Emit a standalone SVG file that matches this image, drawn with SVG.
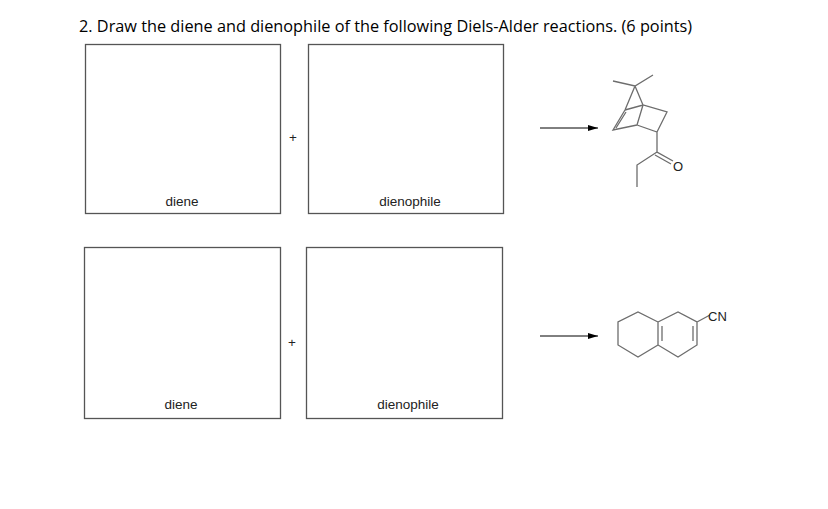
<svg xmlns="http://www.w3.org/2000/svg" width="828" height="509" viewBox="0 0 828 509">
<style>
.box{fill:none;stroke:#555;stroke-width:1.3}
.t{font-family:"Liberation Sans",Arial,sans-serif;font-size:13.5px;fill:#222}
.b{fill:none;stroke:#6d6d6d;stroke-width:1.3}
.c{stroke:#000;stroke-width:1}
</style>
<defs><marker id="ah" viewBox="0 0 10 6" refX="10" refY="3" markerWidth="10" markerHeight="6" orient="auto" markerUnits="userSpaceOnUse"><path d="M0,0L10,3L0,6z" fill="#000"/></marker></defs>
<rect width="828" height="509" fill="#fff"/>
<text x="79" y="32" font-family="Open Sans,sans-serif" font-size="16.3" fill="#000">2. Draw the diene and dienophile of the following Diels-Alder reactions.  (6 points)</text>
<g id="box1"><rect class="box" x="85.5" y="44.5" width="195" height="169"/><text class="t" x="182" y="206" text-anchor="middle">diene</text></g>
<g id="box2"><rect class="box" x="308.5" y="44.5" width="195" height="169"/><text class="t" x="410" y="206" text-anchor="middle">dienophile</text></g>
<g id="box3"><rect class="box" x="84.5" y="247.5" width="196" height="171"/><text class="t" x="181" y="409" text-anchor="middle">diene</text></g>
<g id="box4"><rect class="box" x="306.5" y="247.5" width="196" height="171"/><text class="t" x="408" y="409" text-anchor="middle">dienophile</text></g>
<g id="plus1"><text class="t" x="293" y="142" text-anchor="middle" font-size="11">+</text></g>
<g id="plus2"><text class="t" x="292" y="347" text-anchor="middle" font-size="11">+</text></g>
<g id="connectors">
<line class="c" x1="540" y1="128" x2="598" y2="128" marker-end="url(#ah)"/>
<line class="c" x1="540" y1="336" x2="598" y2="336" marker-end="url(#ah)"/>
</g>
<g id="product1" class="b">
<path d="M613,81L635,86L653,75M635,86L625,110M635,86L643,105L637,125M625,110L613,130L637,125M625,110L643,105L667,112L657,132L637,125M616,128L626,112M657,132L657,152L673,161M655,155L671,164M657,152L637,165L637,187"/>
</g>
<text x="673" y="171" font-family="Liberation Sans,Arial,sans-serif" font-size="13" fill="#222">O</text>
<g id="product2" class="b">
<path d="M658,322L638,312L618,322L618,345L638,357L658,345M658,322L678,312L697,322L697,345L678,357L658,345L658,322M662,326L662,341M693,326L693,341M697,322L710,315"/>
</g>
<text x="708" y="321" font-family="Liberation Sans,Arial,sans-serif" font-size="13" fill="#222">CN</text>
</svg>
